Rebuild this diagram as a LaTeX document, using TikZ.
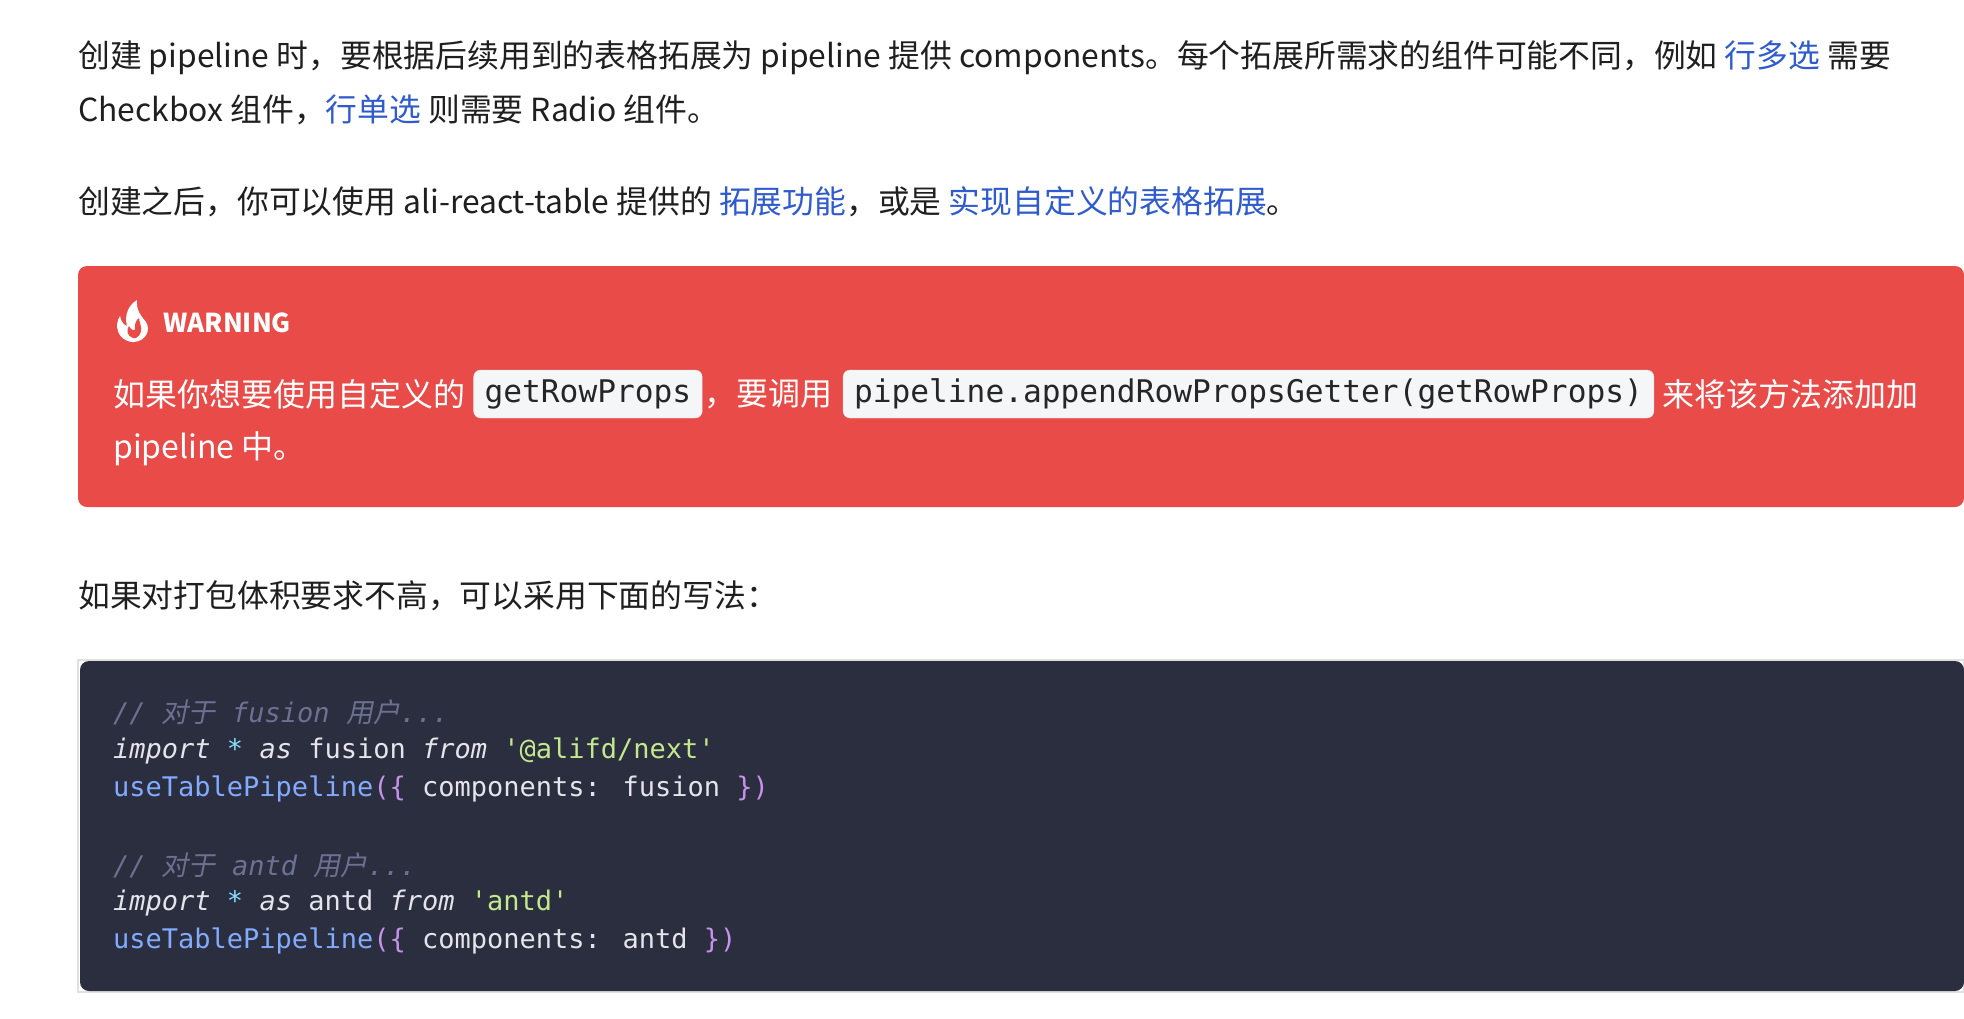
\documentclass[tikz,border=0pt]{standalone}
\usepackage{fontspec}
\setmainfont{Noto Sans CJK SC}
\newfontfamily\codefont{DejaVu Sans Mono}
\newfontfamily\cjkcode[FakeSlant=0.2]{Noto Sans CJK SC}
\definecolor{txt}{HTML}{1F1F1F}
\definecolor{lnk}{HTML}{2F5BCF}
\definecolor{warnred}{HTML}{E84B48}
\definecolor{codebg}{HTML}{2B2E3E}
\definecolor{cmt}{HTML}{6C7192}
\definecolor{plain}{HTML}{E4E4EA}
\definecolor{star}{HTML}{89DDFF}
\definecolor{strg}{HTML}{C3E88D}
\definecolor{fn}{HTML}{82AAFF}
\definecolor{brc}{HTML}{C792EA}
\definecolor{chipbg}{HTML}{F5F6F8}
\begin{document}
\begin{tikzpicture}[x=1pt,y=-1pt,
  body/.style={anchor=west,inner sep=0pt,font=\fontsize{31.8}{36}\selectfont,text=txt},
  wtxt/.style={anchor=west,inner sep=0pt,font=\fontsize{32}{38}\selectfont,text=white},
  chip/.style={anchor=west,fill=chipbg,draw=black!12,rounded corners=7pt,inner xsep=11pt,minimum height=48pt,font=\codefont\fontsize{31.2}{34}\selectfont,text=black!85},
  code/.style={anchor=west,inner sep=0pt,font=\codefont\fontsize{27}{32}\selectfont,text=plain}]
\useasboundingbox (0,0) rectangle (1964,1018);
\fill[white] (0,0) rectangle (1964,1018);
% paragraphs
\node[body] (p1) at (78,58) {创建 pipeline 时，要根据后续用到的表格拓展为 pipeline 提供 components。每个拓展所需求的组件可能不同，例如 \textcolor{lnk}{行多选} 需要};
\node[body] (p2) at (78,110) {Checkbox 组件，\textcolor{lnk}{行单选} 则需要 Radio 组件。};
\node[body] (p3) at (78,202) {创建之后，你可以使用 ali-react-table 提供的 \textcolor{lnk}{拓展功能}，或是 \textcolor{lnk}{实现自定义的表格拓展}。};
% warning box
\fill[warnred,rounded corners=9pt] (78,266) rectangle (1964,507);
\fill[white] (132,342) .. controls (117,340) and (114,325) .. (120,316)
  .. controls (121,322) and (124,325) .. (127,326)
  .. controls (124,314) and (129,305) .. (137,300)
  .. controls (136,310) and (141,316) .. (146,322)
  .. controls (151,330) and (146,341) .. (134,342) -- cycle;
\fill[warnred] (133,338) .. controls (127,336) and (126,330) .. (129,326)
  .. controls (131,330) and (134,331) .. (135,330)
  .. controls (134,325) and (136,320) .. (139,318)
  .. controls (140,326) and (145,332) .. (136,338) -- cycle;
\node[wtxt,font=\bfseries\fontsize{26}{30}\selectfont] (wt) at (163,323) {WARNING};
\node[wtxt] (w1) at (113,394) {如果你想要使用自定义的};
\node[chip] (c1) at ([xshift=8pt]w1.east) {getRowProps};
\node[wtxt] (w2) at ([xshift=2pt]c1.east) {，要调用};
\node[chip] (c2) at ([xshift=10pt]w2.east) {pipeline.appendRowPropsGetter(getRowProps)};
\node[wtxt] (w3) at ([xshift=8pt]c2.east) {来将该方法添加加};
\node[wtxt] (w4) at (113,449) {pipeline 中。};
% paragraph
\node[body] (p4) at (78,596) {如果对打包体积要求不高，可以采用下面的写法：};
% code block
\draw[black!12,line width=1.5pt] (78,660) rectangle (1964,992);
\fill[codebg,rounded corners=9pt] (80,661) rectangle (1964,991);
\node[code,text=cmt] (l1) at (113,712) {\itshape // {\cjkcode 对于} fusion {\cjkcode 用户}...};
\node[code] (l2) at (113,751) {\itshape import\upshape{} \textcolor{star}{*} \itshape as\upshape{} fusion \itshape from\upshape{} \textcolor{strg}{'@alifd/next'}};
\node[code] (l3) at (113,789) {\textcolor{fn}{useTablePipeline}\textcolor{brc}{(\{} components: fusion \textcolor{brc}{\})}};
\node[code,text=cmt] (l4) at (113,865) {\itshape // {\cjkcode 对于} antd {\cjkcode 用户}...};
\node[code] (l5) at (113,903) {\itshape import\upshape{} \textcolor{star}{*} \itshape as\upshape{} antd \itshape from\upshape{} \textcolor{strg}{'antd'}};
\node[code] (l6) at (113,941) {\textcolor{fn}{useTablePipeline}\textcolor{brc}{(\{} components: antd \textcolor{brc}{\})}};
\end{tikzpicture}
\end{document}
